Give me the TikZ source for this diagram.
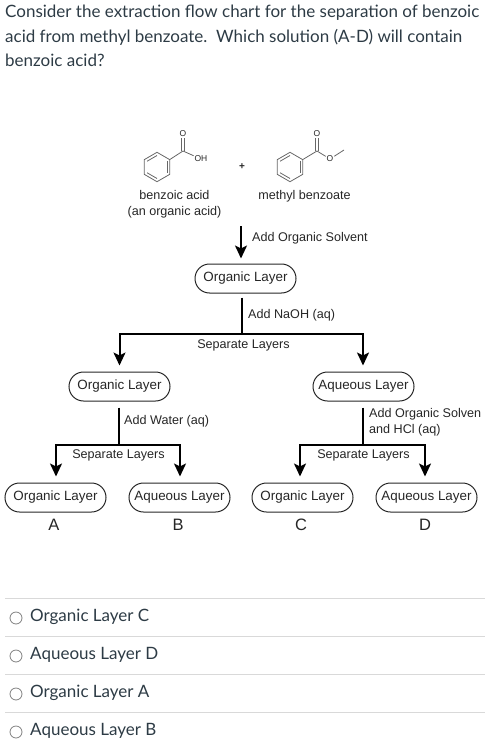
\documentclass[tikz,border=0pt]{standalone}
\usepackage{fontspec}
\setmainfont{Liberation Sans}
\newfontfamily\latofont{Lato}
\usetikzlibrary{positioning,arrows.meta,calc}
\definecolor{canvastext}{HTML}{2D3B45}
\definecolor{chemtext}{HTML}{262626}
\tikzset{
  pill/.style={draw=chemtext, line width=1pt, rounded corners=14.5pt, minimum width=101pt, minimum height=29pt,
    inner sep=0pt, text=chemtext, font=\fontsize{13.4}{15}\selectfont},
  steplabel/.style={anchor=west, inner sep=0pt, align=left, text=chemtext, font=\fontsize{12.6}{16}\selectfont},
  seplabel/.style={inner sep=0pt, text=chemtext, font=\fontsize{12.6}{15}\selectfont},
  chemlabel/.style={inner sep=0pt, align=center, text=chemtext, font=\fontsize{12.6}{16}\selectfont},
  letterlabel/.style={inner sep=0pt, text=chemtext, font=\fontsize{16.5}{18}\selectfont},
  atom/.style={inner sep=0.8pt, text=chemtext, font=\fontsize{8.5}{9}\selectfont},
  bond/.style={draw=chemtext!70, line width=0.8pt},
  flow/.style={draw=black, line width=2pt},
  flowarrow/.style={flow, -{Stealth[length=13pt,width=12pt,inset=3pt]}},
  optline/.style={draw=black!15, line width=0.8pt},
  radio/.style={circle, draw=black!50, line width=0.8pt, minimum size=12pt, inner sep=0pt},
  opttext/.style={anchor=base west, inner sep=0pt, text=canvastext, font=\latofont\fontsize{17}{20}\selectfont},
  ring/.pic={
    \draw[bond] (90:14.7) -- (150:14.7) -- (210:14.7) -- (270:14.7) -- (330:14.7) -- (30:14.7) -- cycle;
    \foreach \a/\b in {90/150, 210/270, 330/30}
      \draw[bond] (\a:11.5) -- (\b:11.5);
  }
}

\begin{document}
\begin{tikzpicture}[x=1pt, y=-1pt]
  \useasboundingbox (0,0) rectangle (485,743);

  % question
  \node[anchor=north west, inner sep=0pt, align=left, text=canvastext,
        font=\latofont\fontsize{17}{24.5}\selectfont] (question) at (5,5)
    {Consider the extraction flow chart for the separation of benzoic\\
     acid from methyl benzoate.\ \ Which solution (A-D) will contain\\
     benzoic acid?};

  % molecules
  \pic at (157,167) {ring};
  \pic at (290,167) {ring};
  \coordinate (acidC) at (183,151);
  \coordinate (esterC) at (317,151);
  \coordinate (esterMe) at (344,150);
  \node[atom] (acidO) at (183,134) {O};
  \node[atom] (acidOH) at (201,159) {OH};
  \node[atom] (esterO) at (317,134) {O};
  \node[atom] (esterOb) at (330,159) {O};
  \node[font=\bfseries\fontsize{10}{10}\selectfont, inner sep=0pt, text=chemtext] (plus) at (242,167) {+};
  \draw[bond] (169.7,159.6) -- (acidC) -- (acidOH);
  \draw[bond] (302.7,159.6) -- (esterC) -- (esterOb) -- (esterMe);
  \draw[bond] ([xshift=-1.2pt]acidC) -- ([xshift=-1.2pt]acidO.south);
  \draw[bond] ([xshift=1.2pt]acidC) -- ([xshift=1.2pt]acidO.south);
  \draw[bond] ([xshift=-1.2pt]esterC) -- ([xshift=-1.2pt]esterO.south);
  \draw[bond] ([xshift=1.2pt]esterC) -- ([xshift=1.2pt]esterO.south);
  \node[chemlabel] (acidname) at (174.5,204) {benzoic acid\\(an organic acid)};
  \node[chemlabel] (estername) at (304.5,196) {methyl benzoate};

  % layers
  \node[pill] (orgTop) at (245.5,278.5) {Organic Layer};
  \node[pill] (orgLeft) at (119.5,386.5) {Organic Layer};
  \node[pill] (aqRight) at (363.5,386.5) {Aqueous Layer};
  \node[pill] (orgA) at (55.5,497.5) {Organic Layer};
  \node[pill] (aqB) at (179.5,497.5) {Aqueous Layer};
  \node[pill] (orgC) at (302.5,497.5) {Organic Layer};
  \node[pill] (aqD) at (426.5,497.5) {Aqueous Layer};
  \node[letterlabel] (letA) at (54,525) {A};
  \node[letterlabel] (letB) at (178,525) {B};
  \node[letterlabel] (letC) at (301,525) {C};
  \node[letterlabel] (letD) at (425,525) {D};

  % flow
  \coordinate (start) at (241,226);
  \coordinate (splitTop) at (242,334);
  \coordinate (splitLeft) at (119,445);
  \coordinate (splitRight) at (363,445);
  \draw[flowarrow, shorten >=5pt] (start) -- (start |- orgTop.north);
  \draw[flow, shorten <=4pt] (splitTop |- orgTop.south) -- (splitTop);
  \draw[flowarrow, shorten >=6pt] (splitTop) -| (orgLeft.north);
  \draw[flowarrow, shorten >=6pt] (splitTop) -| (aqRight.north -| splitRight);
  \draw[flow, shorten <=6pt] (splitLeft |- orgLeft.south) -- (splitLeft);
  \draw[flow, shorten <=6pt] (splitRight |- aqRight.south) -- (splitRight);
  \draw[flowarrow, shorten >=6pt] (splitLeft) -| ([xshift=0.5pt]orgA.north);
  \draw[flowarrow, shorten >=6pt] (splitLeft) -| ([xshift=0.5pt]aqB.north);
  \draw[flowarrow, shorten >=6pt] (splitRight) -| ([xshift=-2.5pt]orgC.north);
  \draw[flowarrow, shorten >=6pt] (splitRight) -| ([xshift=-1.5pt]aqD.north);

  % flow labels
  \node[steplabel] (addSolvent) at (252,238.5) {Add Organic Solvent};
  \node[steplabel] (addBase) at (248,315.5) {Add NaOH (aq)};
  \node[seplabel] (sepTop) at (243.5,345.5) {Separate Layers};
  \node[steplabel] (addWater) at (124,421.5) {Add Water (aq)};
  \node[steplabel] (addAcid) at (369,422) {Add Organic Solven\\and HCl (aq)};
  \node[seplabel] (sepLeft) at (118.5,455.5) {Separate Layers};
  \node[seplabel] (sepRight) at (363.5,455.5) {Separate Layers};

  % answers
  \foreach \i/\y/\txt in {1/598/Organic Layer C, 2/636/Aqueous Layer D, 3/674/Organic Layer A, 4/712/Aqueous Layer B} {
    \coordinate (lineL\i) at (5,\y);
    \coordinate (lineR\i) at (485,\y);
    \draw[optline] (lineL\i) -- (lineR\i);
    \node[radio] (radio\i) at (16,\y+20) {};
    \node[opttext] (answer\i) at (30,\y+23) {\txt};
  }
\end{tikzpicture}
\end{document}
